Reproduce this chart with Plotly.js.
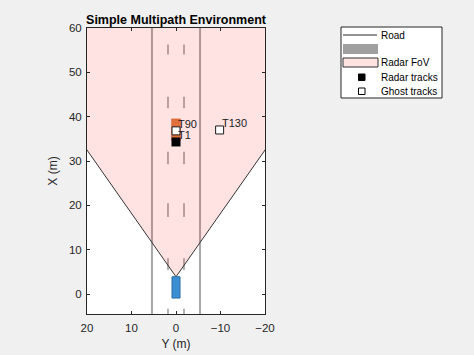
<!DOCTYPE html>
<html>
<head>
<meta charset="utf-8">
<script src="https://cdn.plot.ly/plotly-3.0.1.min.js"></script>
<style>html,body{margin:0;padding:0;background:#f0f0f0;}#chart{width:474px;height:355px;}</style>
</head>
<body>
<div id="chart"></div>
<script>
// ---- data (X = longitudinal, Y = lateral, metres) ----
var roadEdgeY = [5.4, -5.4];
var roadXStart = -10, roadXEnd = 70;
var laneMarkY = [1.8, -1.8];
var dashStartX = [-6.5, 5.4, 17.4, 29.3, 41.9, 54.0];
var dashEndX   = [-3.3, 8.1, 20.5, 32.1, 44.5, 56.3];
var fovY = [0, 70, -70, 0];
var fovX = [3.9, 103.9, 103.9, 3.9];
var egoY = [0.9, -0.9, -0.9, 0.9, 0.9];
var egoX = [-0.9, -0.9, 3.9, 3.9, -0.9];
var targetY = [1.0, -1.0, -1.0, 1.0, 1.0];
var targetX = [34.6, 34.6, 39.5, 39.5, 34.6];
var radarTrackY = [0.0];
var radarTrackX = [34.3];
var radarTrackLabels = ['T1'];
var ghostTrackY = [0.0, -9.8];
var ghostTrackX = [36.8, 37.0];
var ghostTrackLabels = ['T90', 'T130'];
var xTicks = [-20, -10, 0, 10, 20];
var yTicks = [0, 10, 20, 30, 40, 50, 60];

var traces = [];
// road edges
roadEdgeY.forEach(function (y) {
  traces.push({x: [y, y], y: [roadXStart, roadXEnd], mode: 'lines', type: 'scatter',
    line: {color: '#a8a8a8', width: 2}, hoverinfo: 'skip', showlegend: false});
});
// lane markings
laneMarkY.forEach(function (y) {
  var xs = [], ys = [];
  for (var i = 0; i < dashStartX.length; i++) {
    xs.push(y, y, null); ys.push(dashStartX[i], dashEndX[i], null);
  }
  traces.push({x: xs, y: ys, mode: 'lines', type: 'scatter',
    line: {color: '#a0a0a0', width: 1.6}, hoverinfo: 'skip', showlegend: false});
});
// radar FoV
traces.push({x: fovY, y: fovX, mode: 'lines', type: 'scatter', fill: 'toself',
  fillcolor: 'rgba(255,0,0,0.11)', line: {color: '#333333', width: 1},
  hoverinfo: 'skip', showlegend: false});
// ego vehicle
traces.push({x: egoY, y: egoX, mode: 'lines', type: 'scatter', fill: 'toself',
  fillcolor: '#3a8fd4', line: {color: '#2a6aa0', width: 1}, hoverinfo: 'skip', showlegend: false});
// target vehicle
traces.push({x: targetY, y: targetX, mode: 'lines', type: 'scatter', fill: 'toself',
  fillcolor: '#e0703c', line: {color: '#c85a2a', width: 0.5}, hoverinfo: 'skip', showlegend: false});
// ghost tracks
traces.push({x: ghostTrackY, y: ghostTrackX, mode: 'markers', type: 'scatter',
  marker: {symbol: 'square', size: 8, color: '#ffffff', line: {color: '#1a1a1a', width: 1}},
  hoverinfo: 'skip', showlegend: false});
// radar tracks
traces.push({x: radarTrackY, y: radarTrackX, mode: 'markers', type: 'scatter',
  marker: {symbol: 'square', size: 9, color: '#000000', line: {color: '#000000', width: 0}},
  hoverinfo: 'skip', showlegend: false});

var annotations = [];
function addLabels(ys, xs, labels) {
  for (var i = 0; i < labels.length; i++) {
    annotations.push({x: ys[i], y: xs[i], xref: 'x', yref: 'y', text: labels[i], showarrow: false,
      xanchor: 'left', yanchor: 'middle', xshift: 0, yshift: 7,
      font: {family: 'Liberation Sans, Arial, sans-serif', size: 11, color: '#1a1a1a'}});
  }
}
addLabels(radarTrackY, radarTrackX, radarTrackLabels);
addLabels(ghostTrackY, ghostTrackX, ghostTrackLabels);

// manual legend (paper coords: x 87px->0, 265px->1 ; y 314px->0, 28px->1)
function px(x) { return (x - 87) / 178; }
function py(y) { return (314 - y) / 286; }
var shapes = [
  {type: 'rect', xref: 'paper', yref: 'paper', x0: px(341), x1: px(442), y0: py(98), y1: py(27),
   fillcolor: '#ffffff', line: {color: '#262626', width: 1}, layer: 'above'},
  {type: 'line', xref: 'paper', yref: 'paper', x0: px(343), x1: px(377), y0: py(35), y1: py(35),
   line: {color: '#262626', width: 1}, layer: 'above'},
  {type: 'rect', xref: 'paper', yref: 'paper', x0: px(343), x1: px(378), y0: py(54), y1: py(44),
   fillcolor: '#a0a0a0', line: {width: 0}, layer: 'above'},
  {type: 'rect', xref: 'paper', yref: 'paper', x0: px(343), x1: px(378), y0: py(67), y1: py(58),
   fillcolor: '#ffe3e3', line: {color: '#333333', width: 1}, layer: 'above'},
  {type: 'rect', xref: 'paper', yref: 'paper', x0: px(358.5), x1: px(365), y0: py(80.5), y1: py(74),
   fillcolor: '#000000', line: {color: '#000000', width: 1}, layer: 'above'},
  {type: 'rect', xref: 'paper', yref: 'paper', x0: px(358.5), x1: px(365), y0: py(94.5), y1: py(88),
   fillcolor: '#ffffff', line: {color: '#000000', width: 1}, layer: 'above'}
];
var legendTexts = [['Road', 35], ['Radar FoV', 62.5], ['Radar tracks', 77.5], ['Ghost tracks', 91.5]];
legendTexts.forEach(function (t) {
  annotations.push({xref: 'paper', yref: 'paper', x: px(379), y: py(t[1]), text: t[0], showarrow: false,
    xanchor: 'left', yanchor: 'middle',
    font: {family: 'Liberation Sans, Arial, sans-serif', size: 10, color: '#000000'}});
});

var layout = {
  width: 474, height: 355,
  margin: {l: 87, r: 209, t: 28, b: 41, pad: 0},
  paper_bgcolor: '#f0f0f0', plot_bgcolor: '#ffffff',
  font: {family: 'Liberation Sans, Arial, sans-serif', size: 11, color: '#262626'},
  title: {text: '<b>Simple Multipath Environment</b>', x: 0.5, xref: 'paper', xanchor: 'center',
    y: 1, yref: 'paper', yanchor: 'bottom', pad: {b: 4},
    font: {family: 'Liberation Sans, Arial, sans-serif', size: 12.5, color: '#000000'}},
  xaxis: {range: [20, -20], tickvals: xTicks, ticks: 'inside', ticklen: 3, tickcolor: '#262626',
    showline: true, linecolor: '#262626', linewidth: 1, mirror: 'ticks', showgrid: false, zeroline: false,
    ticklabelstandoff: 3,
    tickfont: {size: 11.5, color: '#262626'},
    title: {text: 'Y (m)', font: {size: 12, color: '#262626'}, standoff: 6}},
  yaxis: {range: [-4.5, 60], tickvals: yTicks, ticks: 'inside', ticklen: 3, tickcolor: '#262626',
    showline: true, linecolor: '#262626', linewidth: 1, mirror: 'ticks', showgrid: false, zeroline: false,
    ticklabelstandoff: 2,
    tickfont: {size: 11.5, color: '#262626'},
    title: {text: 'X (m)', font: {size: 12, color: '#262626'}, standoff: 8}},
  shapes: shapes,
  annotations: annotations,
  showlegend: false
};

Plotly.newPlot('chart', traces, layout, {displayModeBar: false, staticPlot: true});
</script>
</body>
</html>
